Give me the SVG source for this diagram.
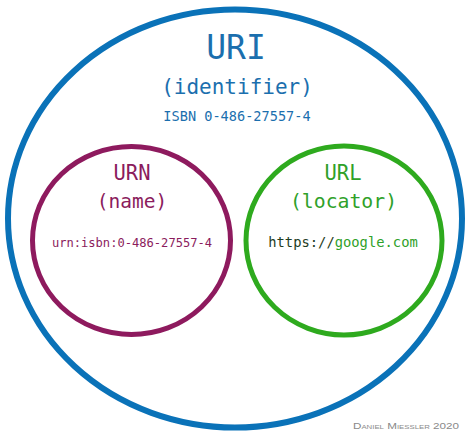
<svg xmlns="http://www.w3.org/2000/svg" width="474" height="437" viewBox="0 0 474 437">
<style>
.m{font-family:"DejaVu Sans Mono","Liberation Mono",monospace;text-anchor:middle}
.blue{fill:#1b6fae}
.pur{fill:#8b1c5d}
.grn{fill:#2fa12a}
</style>
<rect width="474" height="437" fill="#ffffff"/>
<g id="uri">
<ellipse cx="235" cy="218.5" rx="227" ry="209" fill="none" stroke="#0a72b8" stroke-width="6"/>
<text class="m blue" x="236" y="59" font-size="33">URI</text>
<text class="m blue" x="237" y="94" font-size="21">(identifier)</text>
<text class="m blue" x="237" y="121" font-size="13.6">ISBN 0-486-27557-4</text>
</g>
<g id="urn">
<ellipse cx="131.5" cy="240.5" rx="99" ry="94" fill="none" stroke="#8e1a5e" stroke-width="5"/>
<text class="m pur" x="132" y="180" font-size="20.5">URN</text>
<text class="m pur" x="132" y="208" font-size="19.5">(name)</text>
<text class="m pur" x="132" y="247" font-size="12.1">urn:isbn:0-486-27557-4</text>
</g>
<g id="url">
<ellipse cx="344" cy="240.5" rx="98" ry="94.5" fill="none" stroke="#2eaa1e" stroke-width="5"/>
<text class="m grn" x="343" y="180" font-size="20.5">URL</text>
<text class="m grn" x="343.5" y="208" font-size="19.8">(locator)</text>
<text class="m" x="343" y="247" font-size="13.8"><tspan fill="#1f3d24">https://</tspan><tspan fill="#2fa12a">google.com</tspan></text>
</g>
<g id="credit">
<text x="353" y="429" font-family="Liberation Sans,Arial,sans-serif" font-size="9" font-variant="small-caps" fill="#8a8a8a" textLength="106" lengthAdjust="spacingAndGlyphs">Daniel Miessler 2020</text>
</g>
<g id="connectors"></g>
</svg>
